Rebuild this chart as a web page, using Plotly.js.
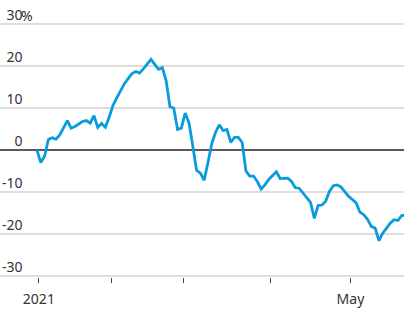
<!DOCTYPE html>
<html>
<head>
<meta charset="utf-8">
<script src="https://cdn.plot.ly/plotly-3.0.1.min.js"></script>
<style>html,body{margin:0;padding:0;background:#fff;}#chart{width:417px;height:320px;}</style>
</head>
<body>
<div id="chart"></div>
<script>
// Percent change since end of 2020, one value per trading day (index 0 = last day of 2020)
const values = [
  0, -3.0, -1.5, 2.5, 2.9, 2.6, 3.6, 5.2, 7.0, 5.2,
  5.6, 6.2, 6.8, 7.0, 6.4, 8.2, 5.4, 6.3, 5.4, 7.8,
  10.6, 12.4, 14.0, 15.8, 17.0, 18.2, 18.7, 18.3, 19.3, 20.6,
  21.6, 20.4, 19.2, 19.6, 16.5, 10.3, 10.0, 4.9, 5.2, 8.8,
  6.5, 1.0, -4.8, -5.5, -7.2, -3.0, 1.5, 4.2, 6.0, 4.6,
  4.9, 1.8, 3.0, 3.0, 1.8, -5.0, -6.2, -6.2, -7.5, -9.3,
  -8.3, -7.0, -6.2, -5.2, -6.8, -6.8, -6.7, -7.5, -9.0, -9.1,
  -10.2, -11.3, -12.5, -16.3, -13.2, -13.1, -12.2, -9.8, -8.5, -8.3,
  -8.8, -9.9, -11.0, -11.8, -12.6, -14.8, -15.4, -16.5, -18.2, -18.6,
  -21.6, -19.8, -18.6, -17.4, -16.6, -16.8, -15.6, -15.5
];
// Month boundaries (between last trading day of previous month and first of the new one)
const xTickVals = [0.5, 19.5, 38.5, 61.5, 82.5];
const xTickText = ["2021", "", "", "", "May"];
const yTickVals = [-30, -20, -10, 0, 10, 20, 30];
const yTickText = ["-30", "-20", "-10", "0", "10", "20", "30"];

const days = values.map((v, i) => i);

const font = {family: "'Noto Sans', 'Open Sans', sans-serif", size: 14, color: "#333"};

const trace = {
  x: days, y: values, type: "scatter", mode: "lines",
  line: {color: "#0a9bdc", width: 2.8, shape: "linear"},
  hoverinfo: "skip"
};

const layout = {
  width: 417, height: 320,
  margin: {l: 0, r: 13, t: 23, b: 43, pad: 0},
  paper_bgcolor: "#fff", plot_bgcolor: "#fff",
  showlegend: false,
  font: font,
  xaxis: {
    range: [-9.73, 96.6],
    tickmode: "array", tickvals: xTickVals, ticktext: xTickText,
    ticks: "outside", ticklen: 5, tickwidth: 1, tickcolor: "#444",
    showgrid: false, zeroline: false, showline: false,
    tickfont: font, ticklabelstandoff: 4
  },
  yaxis: {
    range: [-30.24, 30.24],
    anchor: "free", position: 22.5 / 404, side: "left",
    tickmode: "array", tickvals: yTickVals, ticktext: yTickText,
    ticks: "", showline: false,
    showgrid: true, gridcolor: "#dedede", gridwidth: 2,
    zeroline: true, zerolinecolor: "#5a5a5a", zerolinewidth: 2,
    tickfont: font, ticklabelshift: -9, ticklabelstandoff: 0
  },
  annotations: [{
    text: "%", xref: "paper", yref: "y", x: 20 / 404, y: 30,
    xanchor: "left", yanchor: "middle", yshift: 9, showarrow: false,
    font: font, borderpad: 0
  }]
};

Plotly.newPlot("chart", [trace], layout, {staticPlot: true, displayModeBar: false});
</script>
</body>
</html>
